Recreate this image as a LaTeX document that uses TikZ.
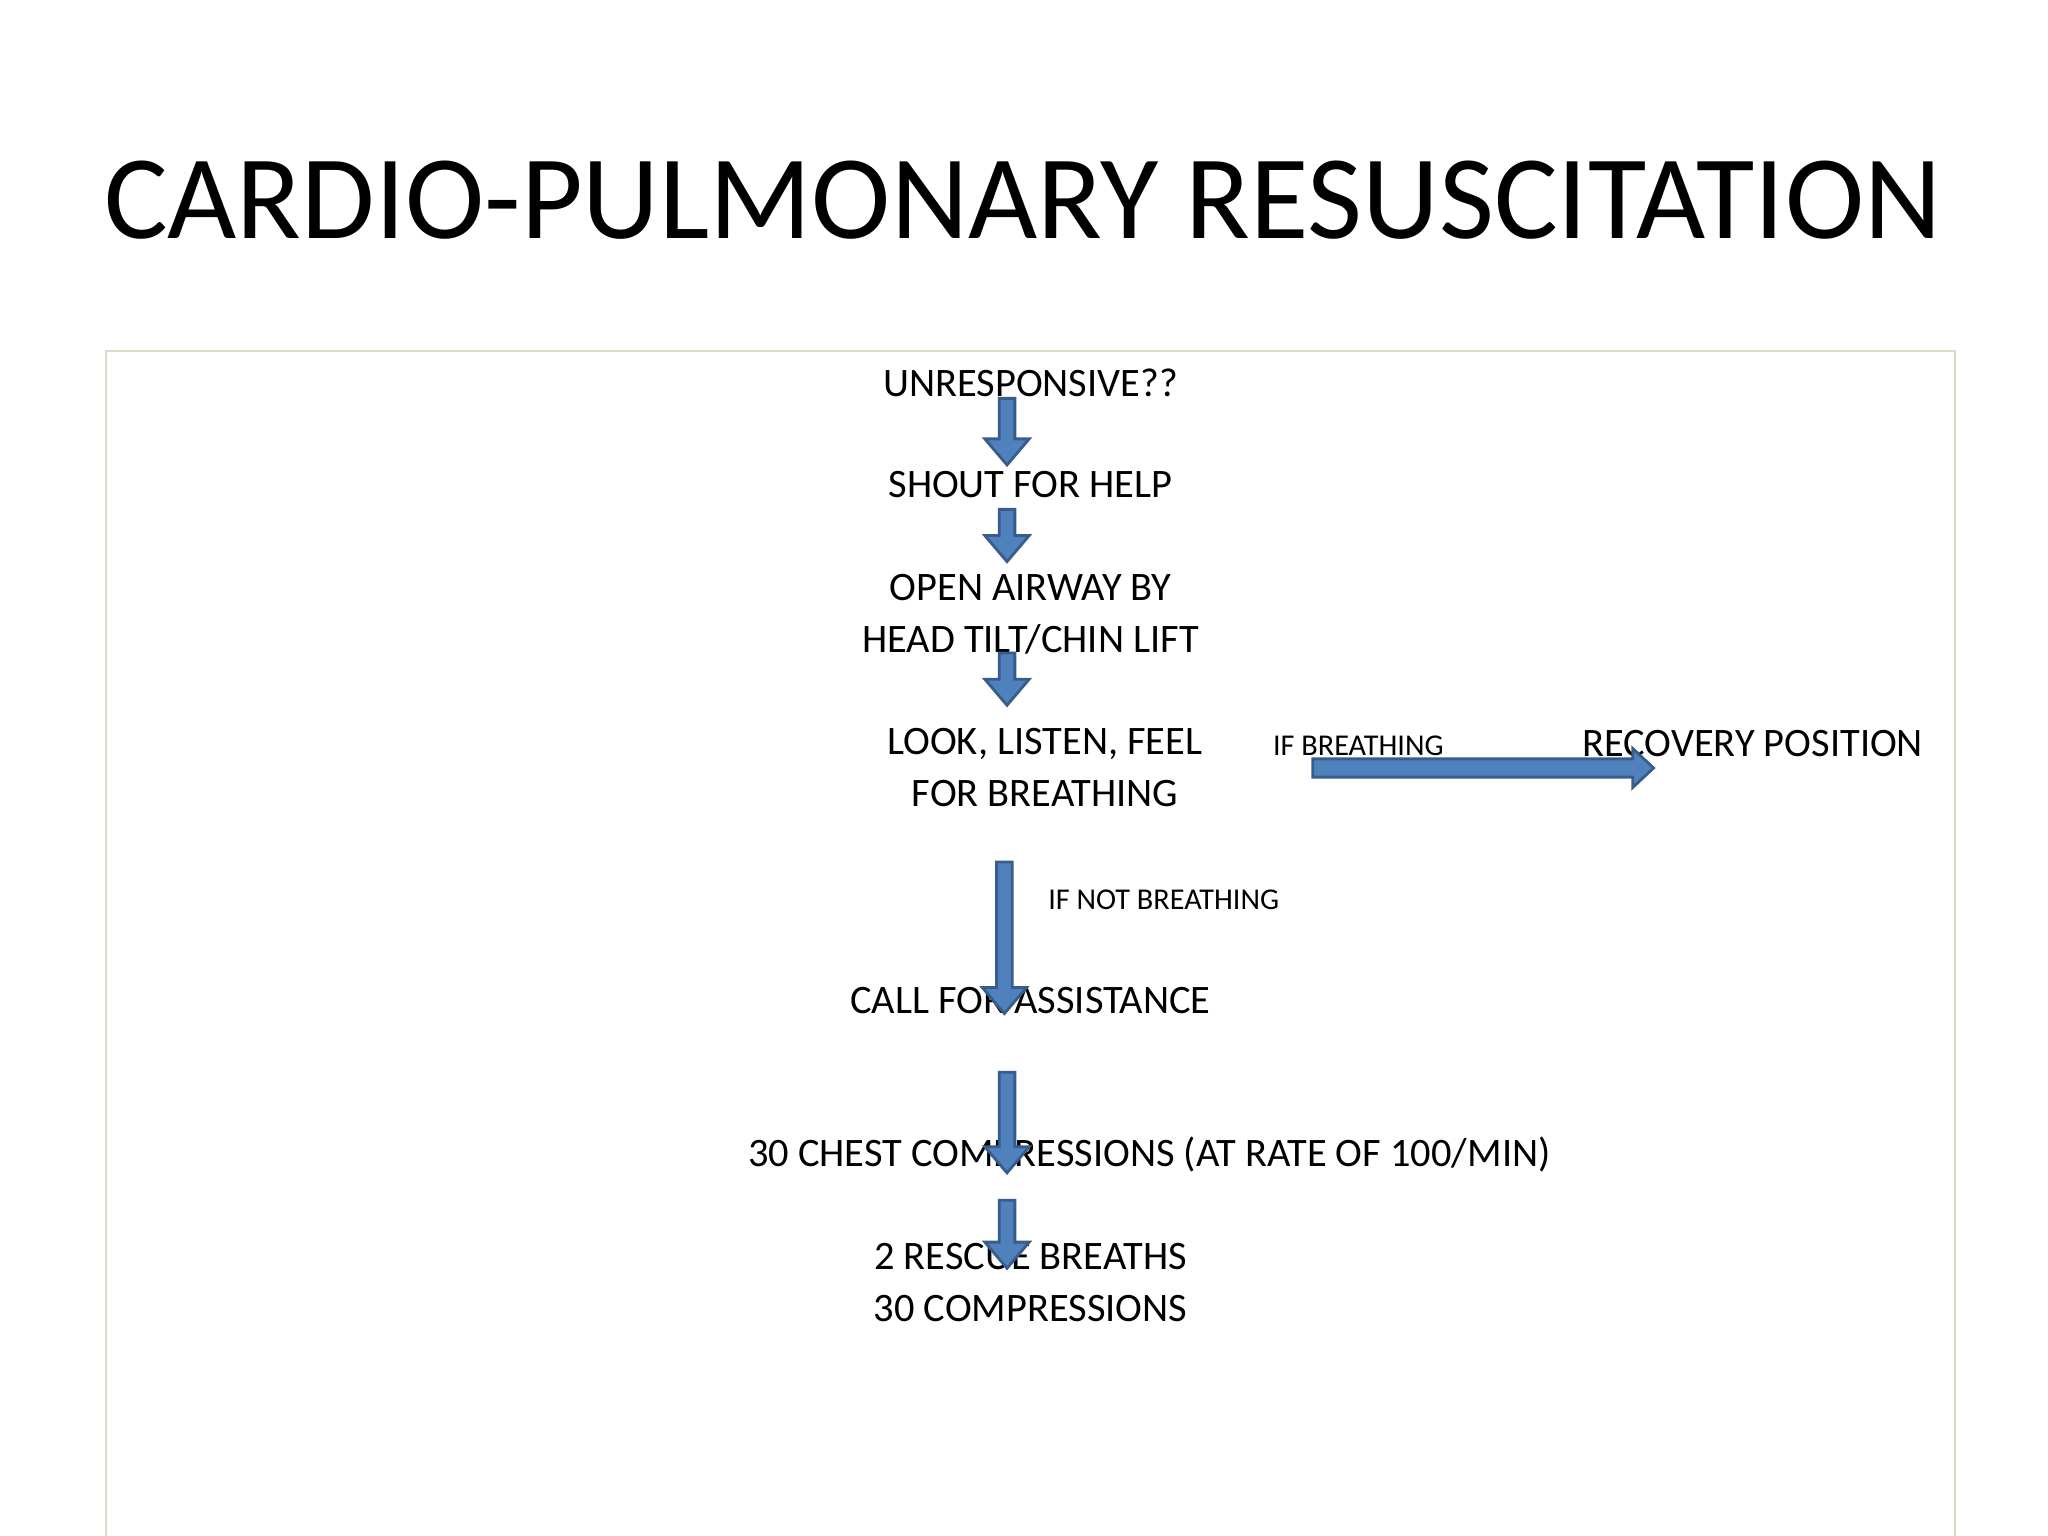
\documentclass[tikz,border=0pt]{standalone}
\usepackage{fontspec}
\setmainfont{Carlito}
\usetikzlibrary{positioning}
\definecolor{arrowblue}{RGB}{79,129,189}
\definecolor{arrowedge}{RGB}{56,93,138}
\definecolor{frame}{RGB}{215,222,200}

% block arrow pointing down: x, top, bottom
\newcommand{\downblock}[4]{%
  \draw[blk] (#1-6,#2) -- (#1+6,#2) -- (#1+6,#3-20) -- (#1+17,#3-20) -- (#1,#3)
    -- (#1-17,#3-20) -- (#1-6,#3-20) -- cycle;
  \coordinate (#4) at (#1,#3);}

\begin{document}
\begin{tikzpicture}[
        x=0.01306cm, y=-0.01306cm,
        stage/.style={font=\fontsize{11.5}{14.8}\selectfont, align=center, inner sep=0},
        note/.style={font=\fontsize{8.6}{10}\selectfont, inner sep=0},
        blk/.style={fill=arrowblue, draw=arrowedge, line width=0.8pt}
    ]
    \useasboundingbox (0,0) rectangle (1568,1176);
    \draw[frame, line width=0.6pt] (81,1180) |- (1497,269) -- (1497,1180);

    % Title
    \node[font=\fontsize{34}{40}\selectfont] (title) at (783,153) {CARDIO-PULMONARY RESUSCITATION};

    % Steps
    \node[stage] (unresp) at (789,293) {UNRESPONSIVE??};
    \node[stage] (shout) at (789,371) {SHOUT FOR HELP};
    \node[stage] (airway) at (789,470) {OPEN AIRWAY BY\\HEAD TILT/CHIN LIFT};
    \node[stage] (look) at (800,588) {LOOK, LISTEN, FEEL\\FOR BREATHING};
    \node[stage] (recovery) at (1342,569) {RECOVERY POSITION};
    \node[stage] (call) at (789,766) {CALL FOR ASSISTANCE};
    \node[stage] (chest) at (880,884) {30 CHEST COMPRESSIONS (AT RATE OF 100/MIN)};
    \node[stage] (rescue) at (789,982) {2 RESCUE BREATHS\\30 COMPRESSIONS};

    % Labels
    \node[note] (yes) at (1040,571) {IF BREATHING};
    \node[note] (no) at (891,689) {IF NOT BREATHING};

    % Arrows
    \downblock{771}{305}{356}{a1}
    \downblock{771}{390}{430}{a2}
    \downblock{771}{500}{540}{a3}
    \downblock{769}{660}{776}{a5}
    \downblock{771}{821}{898}{a6}
    \downblock{771}{919}{971}{a7}
    \draw[blk] (1005,581) -- (1250,581) -- (1250,573) -- (1266,588) -- (1250,603)
      -- (1250,595) -- (1005,595) -- cycle;
\end{tikzpicture}
\end{document}
